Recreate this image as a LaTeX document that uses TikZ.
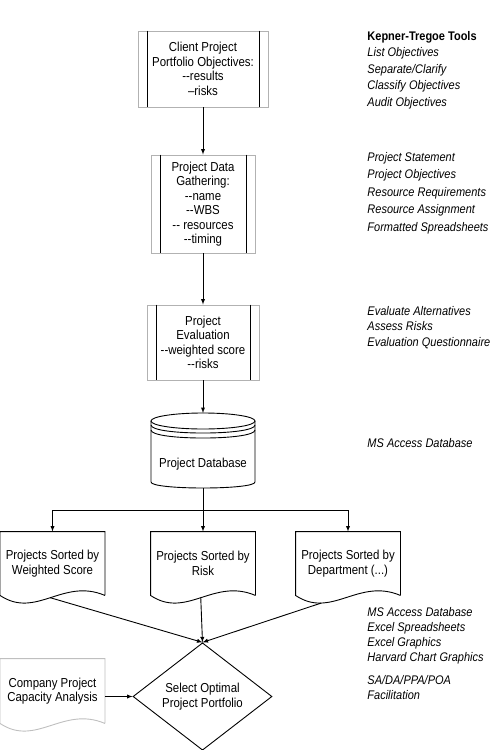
\documentclass[tikz,border=0pt]{standalone}
\usepackage{fontspec}
\setmainfont[FakeStretch=0.88]{Liberation Sans}
\usetikzlibrary{arrows.meta,shapes.geometric,calc}

\begin{document}
\begin{tikzpicture}[x=1pt,y=-1pt,line width=0.9pt,
    every node/.style={font=\fontsize{13}{14.5}\selectfont},
    procbox/.style={draw=gray!60,align=center,inner sep=0pt},
    docbox/.style={align=center,inner sep=0pt,minimum width=104pt,minimum height=63pt},
    toollist/.style={anchor=west,align=left,inner sep=0pt,font=\fontsize{12.5}{16.5}\selectfont\itshape}]
                \useasboundingbox (0,0) rectangle (500,750);
                % process boxes
                \node[procbox,minimum width=130pt,minimum height=76pt] (client) at (203,69) {Client Project\\Portfolio Objectives:\\-{}-results\\--risks};
                \node[procbox,minimum width=104pt,minimum height=98pt] (gather) at (203,204) {Project Data\\Gathering:\\-{}-name\\-{}-WBS\\-{}- resources\\-{}-timing};
                \node[procbox,minimum width=112pt,minimum height=75pt] (evalu) at (203,342.5) {Project\\Evaluation\\-{}-weighted score\\-{}-risks};
                \foreach \b in {client,gather,evalu} {
                    \draw ($(\b.north west)+(9.5,0)$) -- ($(\b.south west)+(9.5,0)$);
                    \draw ($(\b.north east)+(-9.5,0)$) -- ($(\b.south east)+(-9.5,0)$);
                }
                % database
                \coordinate (dbtop) at (203,413);
                \coordinate (dbbot) at (203,488);
                \draw (203,421) ellipse [x radius=52,y radius=8];
                \draw (151,421) -- (151,482) .. controls (151,490) and (255,490) .. (255,482) -- (255,421);
                \draw (151,425) .. controls (151,435.7) and (255,435.7) .. (255,425);
                \draw (151,430) .. controls (151,440.7) and (255,440.7) .. (255,430);
                \node (db) at (203,464) {Project Database};
                % sorted lists
                \node[docbox] (sortw) at (52.5,563.5) {Projects Sorted by\\Weighted Score};
                \node[docbox] (sortr) at (203,563.5) {Projects Sorted by\\Risk};
                \node[docbox] (sortd) at (348,563.5) {Projects Sorted by\\Department (...)};
                \node[docbox,minimum height=64pt] (capac) at (52.5,691) {Company Project\\Capacity Analysis};
                \foreach \d/\c in {sortw/black,sortr/black,sortd/black,capac/gray!50}
                    \draw[draw=\c] (\d.south east) -- (\d.north east) -- (\d.north west) -- (\d.south west)
                        .. controls ($(\d.south west)+(36,24)$) and ($(\d.south east)+(-42,-18)$) .. (\d.south east)
                        coordinate[pos=0.25] (\d-dip) coordinate[pos=0.5] (\d-mid);
                \node[diamond,draw,minimum width=139pt,minimum height=103pt,inner sep=0pt,align=center] (select) at (202.5,696.5) {Select Optimal\\Project Portfolio};
                % connectors
                \draw[-latex] (client) -- (gather);
                \draw[-latex] (gather) -- (evalu);
                \draw[-latex] (evalu) -- (dbtop);
                \coordinate (split) at (203,510);
                \draw (dbbot) -- (split);
                \draw[-latex] (split) -| (sortw);
                \draw[-latex] (split) -- (sortr);
                \draw[-latex] (split) -| (sortd);
                \draw[-latex] (sortw-mid) -- (select.north);
                \draw[-latex] (sortr-mid) -- (select.north);
                \draw[-latex] (sortd-dip) -- (select.north);
                \draw[-latex] (select.west -| capac.east) -- (select.west);
                % tools
                \node[toollist] (kt) at (367,70) {\textbf{\upshape Kepner-Tregoe Tools}\\List Objectives\\Separate/Clarify\\Classify Objectives\\Audit Objectives};
                \node[toollist,font=\fontsize{12.5}{17.5}\selectfont\itshape] (pdg) at (367,193) {Project Statement\\Project Objectives\\Resource Requirements\\Resource Assignment\\Formatted Spreadsheets};
                \node[toollist,font=\fontsize{12.5}{15.5}\selectfont\itshape] (pev) at (367,327.5) {Evaluate Alternatives\\Assess Risks\\Evaluation Questionnaire};
                \node[toollist] (msa) at (367,443) {MS Access Database};
                \node[toollist,font=\fontsize{12.5}{15}\selectfont\itshape] (rep) at (367,635.5) {MS Access Database\\Excel Spreadsheets\\Excel Graphics\\Harvard Chart Graphics};
                \node[toollist,font=\fontsize{12.5}{15}\selectfont\itshape] (fac) at (367,687.5) {SA/DA/PPA/POA\\Facilitation};
            \end{tikzpicture}
\end{document}
